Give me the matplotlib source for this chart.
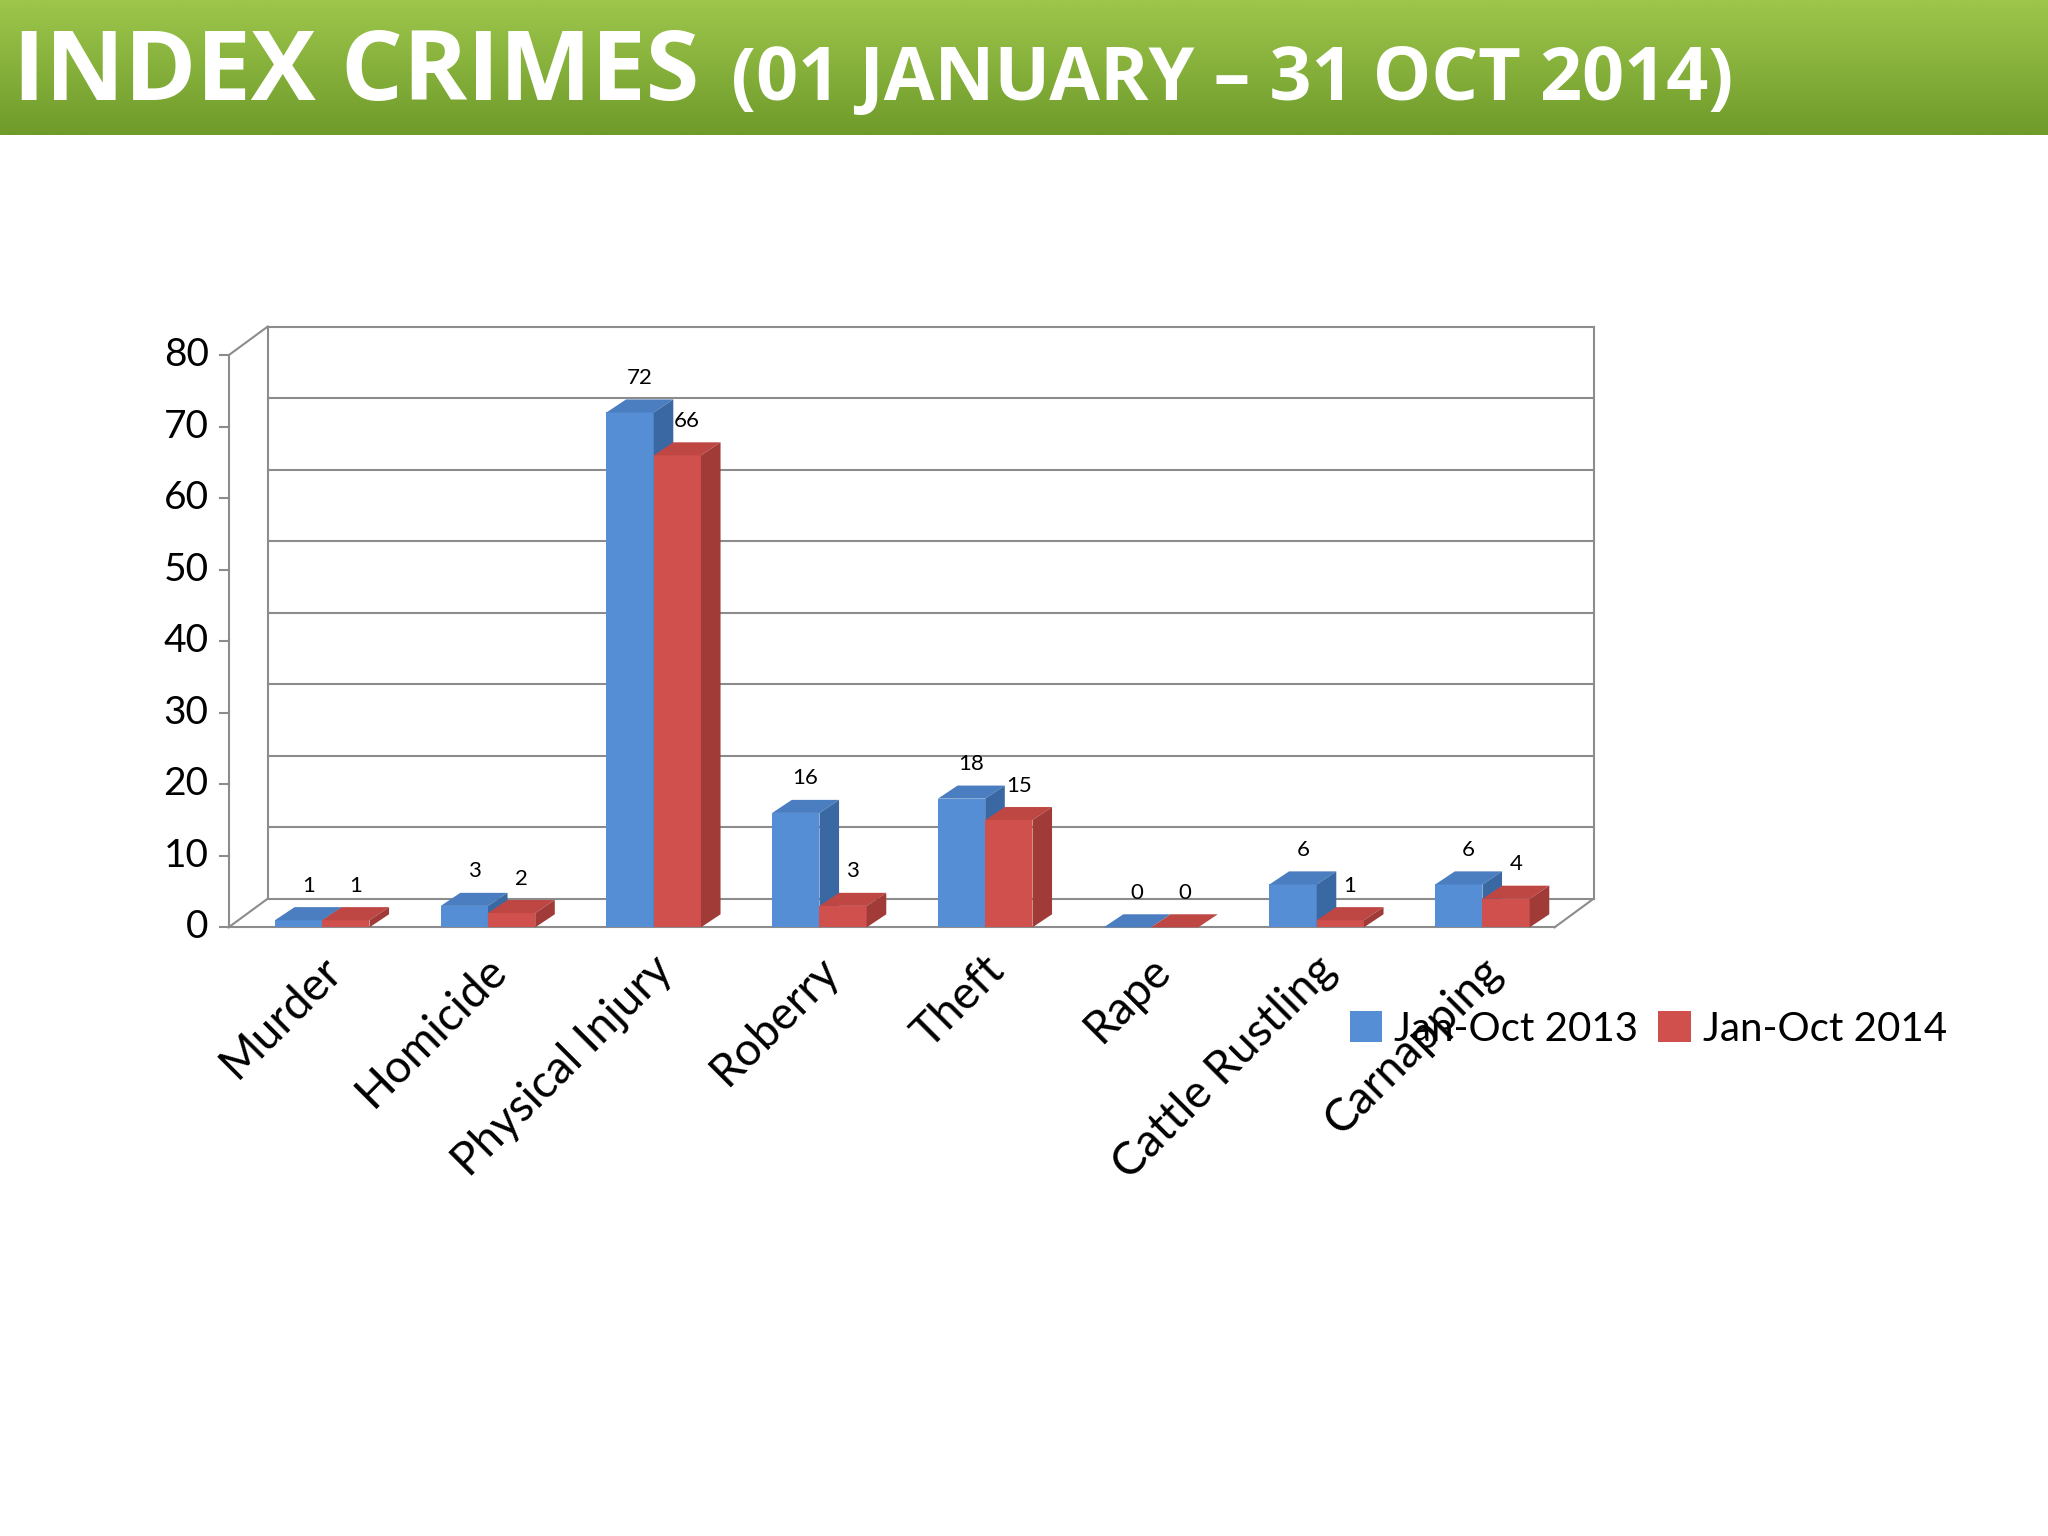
import numpy as np
import matplotlib.pyplot as plt
from matplotlib.patches import Polygon, Rectangle
from matplotlib.colors import LinearSegmentedColormap

categories = ['Murder', 'Homicide', 'Physical Injury', 'Roberry', 'Theft',
              'Rape', 'Cattle Rustling', 'Carnapping']
y2013 = [1, 3, 72, 16, 18, 0, 6, 6]
y2014 = [1, 2, 66, 3, 15, 0, 1, 4]
yticks = [0, 10, 20, 30, 40, 50, 60, 70, 80]

W, H = 1568, 1176  # reference pixel frame used for layout
fig = plt.figure(figsize=(20.48, 15.36), dpi=100)
plt.rcParams['font.family'] = ['Lato', 'DejaVu Sans']

# green title banner
bax = fig.add_axes([0, 1 - 103 / H, 1, 103 / H])
grad = np.linspace(0, 1, 100)[:, None]
cm = LinearSegmentedColormap.from_list('g', ['#9DC64B', '#6F9B2B'])
bax.imshow(grad, aspect='auto', cmap=cm, extent=[0, 1, 0, 1])
bax.axis('off')
fig.text(10 / W, 1 - 57 / H, 'INDEX CRIMES', color='white', fontsize=70,
         fontweight='bold', family=['Open Sans', 'DejaVu Sans'], va='center')
fig.text(560 / W, 1 - 62 / H, '(01 JANUARY \u2013 31 OCT 2014)', color='white',
         fontsize=53, fontweight='bold', family=['Open Sans', 'DejaVu Sans'], va='center')

# plot axes: map reference pixels to data units
pxl, pxr, pyt, pyb = 120, 1260, 230, 740
ax = fig.add_axes([pxl / W, 1 - pyb / H, (pxr - pxl) / W, (pyb - pyt) / H])
sx, sy = 126.9, 5.475
def dx(px): return (px - 175) / sx - 0.5
def dy(py): return (710 - py) / sy
ax.set_xlim(dx(pxl), dx(pxr))
ax.set_ylim(dy(pyb), dy(pyt))
ax.axis('off')

wdx, wdy = 30 / sx, 22 / sy    # wall depth
bdx, bdy = 15 / sx, 10 / sy    # bar depth
x0, x1 = -0.5, len(categories) - 0.5
gc = '#8C8C8C'
for v in yticks:
    ax.plot([x0 + wdx, x1 + wdx], [v + wdy, v + wdy], color=gc, lw=1.5, zorder=1)
    ax.plot([x0 - 0.05, x0], [v, v], color=gc, lw=1.5)
    ax.text(x0 - 0.12, v, str(v), ha='right', va='center', fontsize=28)
ax.plot([x0 + wdx, x0 + wdx], [wdy, 80 + wdy], color=gc, lw=1.5, zorder=1)
ax.plot([x1 + wdx, x1 + wdx], [wdy, 80 + wdy], color=gc, lw=1.5, zorder=1)
ax.plot([x0, x0], [0, 80], color=gc, lw=1.5, zorder=1)
ax.plot([x0, x0 + wdx], [80, 80 + wdy], color=gc, lw=1.5, zorder=1)
ax.plot([x0, x0 + wdx], [0, wdy], color=gc, lw=1.5, zorder=1)
ax.plot([x0, x1], [0, 0], color=gc, lw=1.5, zorder=1)
ax.plot([x1, x1 + wdx], [0, wdy], color=gc, lw=1.5, zorder=1)

blue = ('#558ED5', '#4A7EC0', '#3A68A3')
red = ('#D0504D', '#BE4744', '#A03B38')

def bar3d(xl, w, h, cols, z):
    front, top, side = cols
    ax.add_patch(Rectangle((xl, 0), w, h, fc=front, ec='none', zorder=z))
    ax.add_patch(Polygon([(xl, h), (xl + w, h), (xl + w + bdx, h + bdy), (xl + bdx, h + bdy)],
                         fc=top, ec='none', zorder=z))
    ax.add_patch(Polygon([(xl + w, 0), (xl + w + bdx, bdy), (xl + w + bdx, h + bdy), (xl + w, h)],
                         fc=side, ec='none', zorder=z))

bw = 0.285
for i, (a, b) in enumerate(zip(y2013, y2014)):
    bar3d(i - 0.22, bw, a, blue, 3 + 2 * i)
    bar3d(i - 0.22 + bw, bw, b, red, 4 + 2 * i)
    ax.text(i - 0.22 + bw / 2 + bdx / 2, a + bdy + 1.6, str(a), ha='center', va='bottom', fontsize=16)
    ax.text(i - 0.22 + 1.5 * bw + bdx / 2, b + bdy + 1.6, str(b), ha='center', va='bottom', fontsize=16)
    ax.text(i + 0.05, -3, categories[i], rotation=45, rotation_mode='anchor',
            ha='right', va='top', fontsize=33, zorder=30)

handles = [Rectangle((0, 0), 1, 1, fc=blue[0]), Rectangle((0, 0), 1, 1, fc=red[0])]
fig.legend(handles, ['Jan-Oct 2013', 'Jan-Oct 2014'], loc='center',
           bbox_to_anchor=(1262 / W, 1 - 788 / H), ncol=2, frameon=False,
           fontsize=29, handlelength=0.8, handleheight=0.8, handletextpad=0.3,
           columnspacing=0.5)

fig.savefig('out.png', dpi=100)
